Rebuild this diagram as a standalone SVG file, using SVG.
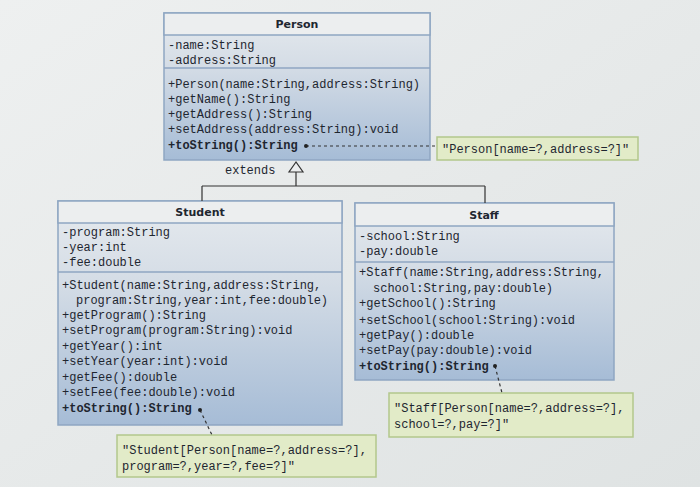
<svg xmlns="http://www.w3.org/2000/svg" width="700" height="487" viewBox="0 0 700 487">
<defs>
<linearGradient id="g" x1="0" y1="0" x2="0" y2="1"><stop offset="0" stop-color="#e6eaee"/><stop offset="0.35" stop-color="#d5dde6"/><stop offset="1" stop-color="#a6bcd6"/></linearGradient>
<linearGradient id="bg" x1="0" y1="0" x2="1" y2="1"><stop offset="0" stop-color="#eef0f0"/><stop offset="1" stop-color="#dfe3e3"/></linearGradient>
<style>
.box{fill:url(#g);stroke:#8fa6c2;stroke-width:1.5}
.hd{fill:#eceeef;stroke:#8fa6c2;stroke-width:1.5}
.sep{stroke:#8fa6c2;stroke-width:1.5}
text{font-family:"Liberation Mono",monospace;font-size:12px;fill:#1e2630}
.b{font-weight:bold}
.t{font-family:"DejaVu Sans",sans-serif;font-weight:bold;font-size:11px;text-anchor:middle}
.note{fill:#e2ebc8;stroke:#b3c78c;stroke-width:1.5}
.ln{stroke:#333;stroke-width:1.2;fill:none}
.dash{stroke:#333;stroke-width:1.2;stroke-dasharray:3,3;fill:none}
</style>
</defs>
<rect width="700" height="487" fill="url(#bg)"/>
<g id="person">
<rect class="box" x="164" y="13" width="266" height="147"/>
<rect class="hd" x="164" y="13" width="266" height="22"/>
<line class="sep" x1="164" y1="68" x2="430" y2="68"/>
<text class="t" x="297" y="28">Person</text>
<text x="168" y="49">-name:String</text>
<text x="168" y="64">-address:String</text>
<text x="168" y="88">+Person(name:String,address:String)</text>
<text x="168" y="103">+getName():String</text>
<text x="168" y="118">+getAddress():String</text>
<text x="168" y="133">+setAddress(address:String):void</text>
<text x="168" y="149" class="b">+toString():String</text>
</g>
<g id="personNote">
<rect class="note" x="437" y="137" width="201" height="23"/>
<text x="442" y="153">"Person[name=?,address=?]"</text>
</g>
<g id="student">
<rect class="box" x="58" y="201" width="284" height="224"/>
<rect class="hd" x="58" y="201" width="284" height="22"/>
<line class="sep" x1="58" y1="272" x2="342" y2="272"/>
<text class="t" x="200" y="216">Student</text>
<text x="62" y="236">-program:String</text>
<text x="62" y="251">-year:int</text>
<text x="62" y="266">-fee:double</text>
<text x="62" y="289">+Student(name:String,address:String,</text>
<text x="76" y="304">program:String,year:int,fee:double)</text>
<text x="62" y="319">+getProgram():String</text>
<text x="62" y="334">+setProgram(program:String):void</text>
<text x="62" y="350">+getYear():int</text>
<text x="62" y="365">+setYear(year:int):void</text>
<text x="62" y="381">+getFee():double</text>
<text x="62" y="396">+setFee(fee:double):void</text>
<text x="62" y="412" class="b">+toString():String</text>
</g>
<g id="staff">
<rect class="box" x="355" y="203" width="259" height="177"/>
<rect class="hd" x="355" y="203" width="259" height="23"/>
<line class="sep" x1="355" y1="262" x2="614" y2="262"/>
<text class="t" x="484" y="219">Staff</text>
<text x="359" y="240">-school:String</text>
<text x="359" y="255">-pay:double</text>
<text x="359" y="276">+Staff(name:String,address:String,</text>
<text x="373" y="292">school:String,pay:double)</text>
<text x="359" y="307">+getSchool():String</text>
<text x="359" y="324">+setSchool(school:String):void</text>
<text x="359" y="339">+getPay():double</text>
<text x="359" y="354">+setPay(pay:double):void</text>
<text x="359" y="370" class="b">+toString():String</text>
</g>
<g id="staffNote">
<rect class="note" x="389" y="393" width="244" height="44"/>
<text x="394" y="412">"Staff[Person[name=?,address=?],</text>
<text x="394" y="428">school=?,pay=?]"</text>
</g>
<g id="studentNote">
<rect class="note" x="117" y="435" width="259" height="42"/>
<text x="122" y="454">"Student[Person[name=?,address=?],</text>
<text x="122" y="470">program=?,year=?,fee=?]"</text>
</g>
<g id="connectors">
<path class="dash" d="M306 146H437"/>
<circle cx="306" cy="146" r="2" fill="#222"/>
<path class="ln" d="M296 172V186M202 186H485M202 186V201M485 186V203"/>
<polygon points="296,162 289,172 303,172" fill="#eceeef" stroke="#333" stroke-width="1.2"/>
<text x="225" y="174">extends</text>
<path class="dash" d="M200 410L212 435"/>
<circle cx="200" cy="410" r="2" fill="#222"/>
<path class="dash" d="M495 366L502 393"/>
<circle cx="495" cy="366" r="2" fill="#222"/>
</g>
</svg>
